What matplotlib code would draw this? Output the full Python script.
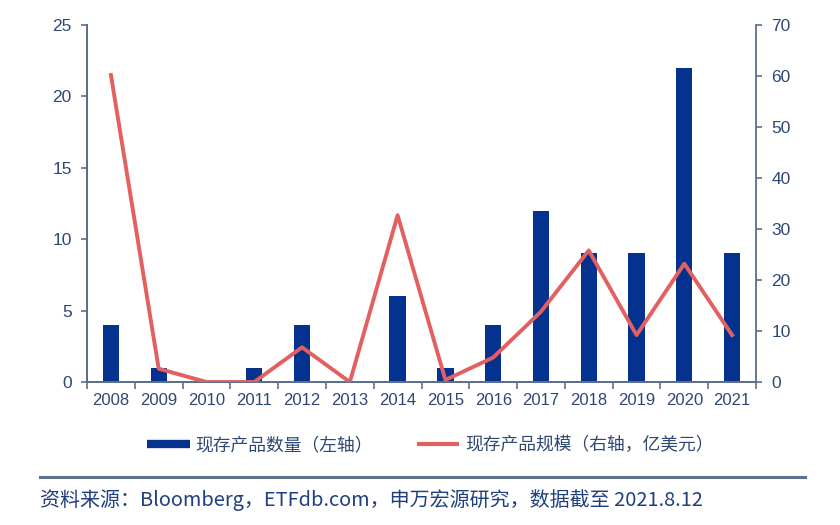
import matplotlib
matplotlib.use("Agg")
import matplotlib.pyplot as plt
from matplotlib.lines import Line2D
import numpy as np

plt.rcParams['font.family'] = ['Liberation Sans', 'Noto Sans CJK SC', 'DejaVu Sans']

years = ['2008', '2009', '2010', '2011', '2012', '2013', '2014', '2015', '2016',
         '2017', '2018', '2019', '2020', '2021']
counts = [4, 1, 0, 1, 4, 0, 6, 1, 4, 12, 9, 9, 22, 9]
scale = [60.2, 2.6, 0, 0, 6.8, 0, 32.7, 0.4, 4.8, 13.8, 25.8, 9.2, 23.2, 9.2]

bar_label = '现存产品数量（左轴）'
line_label = '现存产品规模（右轴，亿美元）'
source = '资料来源：Bloomberg，ETFdb.com，申万宏源研究，数据截至 2021.8.12'

bar_color = '#05318f'
line_color = '#e26060'
axis_color = '#5b6f8c'
text_color = '#2e4773'

fig = plt.figure(figsize=(8.4, 5.25), dpi=100)
ax = fig.add_axes([0.1036, 0.2724, 0.7964, 0.6800])
ax2 = ax.twinx()

x = np.arange(len(years))
ax.bar(x, counts, width=0.34, color=bar_color, zorder=2)
ax2.plot(x, scale, color=line_color, lw=2.8, zorder=3)

ax.set_xlim(-0.5, len(years) - 0.5)
ax.set_ylim(0, 25)
ax.set_yticks(range(0, 26, 5))
ax2.set_ylim(0, 70)
ax2.set_yticks(range(0, 71, 10))

ax.set_xticks(x)
ax.set_xticklabels(years)
ax.set_xticks(np.arange(-0.5, len(years), 1), minor=True)
ax.tick_params(axis='x', which='major', length=0, pad=8, labelsize=12, labelcolor=text_color)
ax.tick_params(axis='x', which='minor', length=5, color=axis_color, width=1.2, direction='out')
ax.tick_params(axis='y', length=4, color=axis_color, width=1.2, labelsize=12.5, labelcolor=text_color, pad=7)
ax2.tick_params(axis='y', length=4, color=axis_color, width=1.2, labelsize=12.5, labelcolor=text_color, pad=7)

for a in (ax, ax2):
    a.spines['top'].set_visible(False)
    for s in ('left', 'right', 'bottom'):
        a.spines[s].set_color(axis_color)
        a.spines[s].set_linewidth(1.3)
ax.spines['right'].set_visible(False)

handles = [Line2D([0], [0], color=bar_color, lw=6, solid_capstyle='butt'),
           Line2D([0], [0], color=line_color, lw=3, solid_capstyle='butt')]
fig.legend(handles, [bar_label, line_label], loc='center', bbox_to_anchor=(0.512, 0.152),
           ncol=2, frameon=False, handlelength=2.4, handletextpad=0.3,
           columnspacing=2.5, labelcolor=text_color,
           prop={'family': ['Noto Sans CJK SC', 'DejaVu Sans'], 'size': 12.8})

fig.add_artist(Line2D([0.048, 0.958], [0.092, 0.092], color='#5f7390', lw=2.2,
                      transform=fig.transFigure))
fig.text(0.048, 0.048, source, fontsize=14.4, color='#1f3f80', va='center', ha='left',
         family=['Noto Sans CJK SC', 'DejaVu Sans'])

fig.savefig('out.png', dpi=100)
